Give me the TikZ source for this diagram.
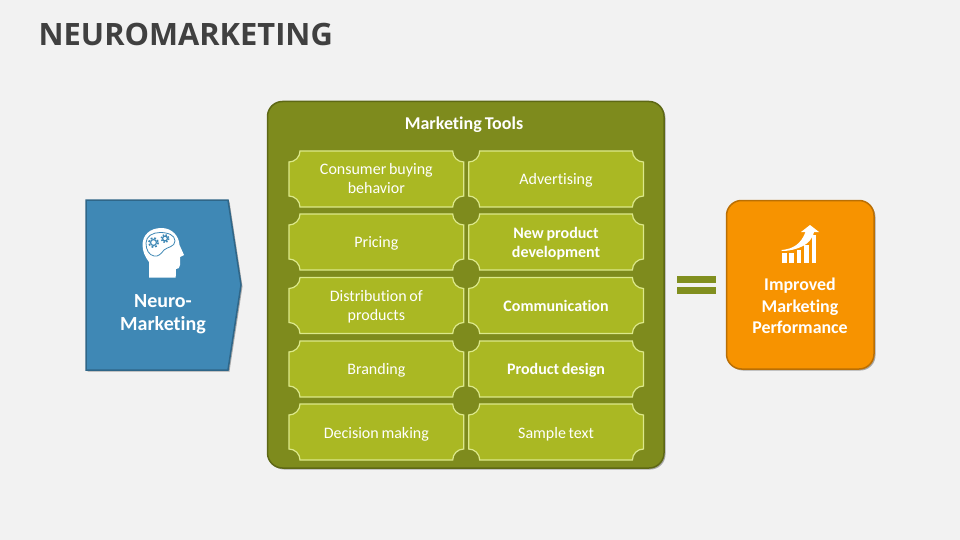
\documentclass[tikz,border=0pt]{standalone}
\usepackage{fontspec}
\setmainfont{Carlito}[RawFeature={-liga}]
\newfontfamily\titlefont{Open Sans}
\usetikzlibrary{shadows}
\definecolor{pagebg}{HTML}{F2F2F2}
\definecolor{titlec}{HTML}{404040}
\definecolor{panelc}{HTML}{7E8B1D}
\definecolor{paneld}{HTML}{5E6815}
\definecolor{cardc}{HTML}{AAB823}
\definecolor{cardl}{HTML}{DCE88A}
\definecolor{bluec}{HTML}{3F88B5}
\definecolor{blued}{HTML}{2F6688}
\definecolor{orangec}{HTML}{F79300}
\definecolor{oranged}{HTML}{BA6F04}
\definecolor{eqc}{HTML}{818F1F}
\newcommand{\tightwords}{\spaceskip .17em\relax}
\tikzset{
  softshadow/.style={drop shadow={shadow xshift=1.5pt,shadow yshift=-1.5pt,opacity=.3,fill=black}},
  cardshape/.style={fill=cardc,draw=cardl,line width=1.2pt},
  cardtext/.style={text=white,font=\fontsize{16}{19}\selectfont,align=center,inner sep=0pt,text width=150pt,execute at begin node=\tightwords},
  boldtext/.style={cardtext,font=\fontsize{16}{19}\selectfont\bfseries},
  headtext/.style={text=white,align=center,inner sep=0pt,font=\fontsize{20}{22.5}\selectfont\bfseries},
  iconfill/.style={fill=white,draw=none},
  brainline/.style={draw=bluec,line width=.8pt,line join=round},
  gearring/.style={draw=bluec,line width=1.2pt},
  gearteeth/.style={draw=bluec,line width=1.6pt},
}
\newcommand{\card}[7]{%
  % #1 name, #2 x0, #3 y0, #4 x1, #5 y1, #6 style, #7 text
  \draw[cardshape] (#2+11,#3) -- (#4-11,#3)
    .. controls (#4-11,#3+6) and (#4-6,#3+11) .. (#4,#3+11)
    -- (#4,#5-11)
    .. controls (#4-6,#5-11) and (#4-11,#5-6) .. (#4-11,#5)
    -- (#2+11,#5)
    .. controls (#2+11,#5-6) and (#2+6,#5-11) .. (#2,#5-11)
    -- (#2,#3+11)
    .. controls (#2+6,#3+11) and (#2+11,#3+6) .. (#2+11,#3) -- cycle;
  \node[#6] (#1) at ({(#2+#4)/2},{(#3+#5)/2+1}) {#7};%
}
\begin{document}
\begin{tikzpicture}[x=1pt,y=-1pt]
\useasboundingbox (0,0) rectangle (960,540);
\fill[pagebg] (0,0) rectangle (960,540);
\node[anchor=base west,inner sep=0pt,text=titlec,font=\titlefont\fontsize{30.8}{34}\selectfont\bfseries] (title) at (38.5,46) {NEUROMARKETING};

% left pentagon
\draw[fill=bluec,draw=blued,line width=1.5pt,line join=miter,softshadow] (86,200) -- (228,200) -- (241,285) -- (228,370) -- (86,370) -- cycle;
% head icon
\fill[iconfill] (149,277.5) -- (149,262)
  .. controls (145,257) and (142.5,251) .. (142.5,245)
  .. controls (142.5,235) and (150,228) .. (161.5,228)
  .. controls (172,228) and (179,236) .. (179.5,245)
  -- (184,255) -- (180,257) -- (180,265)
  .. controls (180,268) and (178,269) .. (176,269)
  -- (175.7,277.5) -- cycle;
\draw[brainline] (146,243)
  .. controls (146,236) and (153,232.5) .. (160,232.5)
  .. controls (168,232.5) and (175,235) .. (175,241)
  .. controls (175,247) and (167,247) .. (164,250)
  .. controls (161,254) and (158,257) .. (154,256)
  .. controls (149,255) and (146,250) .. (146,243) -- cycle;
\draw[gearring] (153.5,242.5) circle[radius=3];
\draw[gearteeth,dash pattern=on 1.9pt off 1.9pt] (153.5,242.5) circle[radius=4.8];
\draw[gearring] (165,238.5) circle[radius=2.4];
\draw[gearteeth,dash pattern=on 1.5pt off 1.5pt] (165,238.5) circle[radius=3.8];
\node[headtext] (neuro) at (163,314) {Neuro-\\Marketing};

% panel
\draw[fill=panelc,draw=paneld,line width=1.5pt,rounded corners=15pt,softshadow] (267.5,101.5) rectangle (664,468);
\node[headtext,font=\fontsize{18}{21}\selectfont\bfseries,execute at begin node=\tightwords] (tools) at (464,125) {Marketing Tools};

\card{c1}{289}{151}{463.7}{207}{cardtext,yshift=1pt}{Consumer buying\\behavior}
\card{c2}{468.7}{151}{643.4}{207}{cardtext}{Advertising}
\card{c3}{289}{214}{463.7}{270}{cardtext}{Pricing}
\card{c4}{468.7}{214}{643.4}{270}{boldtext,yshift=-1pt}{New product\\development}
\card{c5}{289}{277.5}{463.7}{333.5}{cardtext}{Distribution of\\products}
\card{c6}{468.7}{277.5}{643.4}{333.5}{boldtext,yshift=1pt}{Communication}
\card{c7}{289}{341}{463.7}{397}{cardtext}{Branding}
\card{c8}{468.7}{341}{643.4}{397}{boldtext}{Product design}
\card{c9}{289}{404}{463.7}{460}{cardtext,yshift=-1pt}{Decision making}
\card{c10}{468.7}{404}{643.4}{460}{cardtext,yshift=-1pt}{Sample text}

% equals
\fill[eqc] (677,276) rectangle (716,283);
\fill[eqc] (677,287) rectangle (716,294);

% orange box
\draw[fill=orangec,draw=oranged,line width=1.5pt,rounded corners=15pt,softshadow] (726.5,200.5) rectangle (874,369);
% chart icon
\fill[iconfill] (782,252.5) rectangle (787,263.3);
\fill[iconfill] (789.3,252.5) rectangle (794,263.3);
\fill[iconfill] (796.8,250) rectangle (801.3,263.3);
\fill[iconfill] (804,245) rectangle (808.5,263.3);
\fill[iconfill] (811.5,235) rectangle (816,263.3);
\fill[iconfill] (781.7,250)
  .. controls (793,249) and (801,244) .. (805.5,232)
  -- (801,232) -- (810,225) -- (819,232) -- (814,232)
  .. controls (812,240) and (808,243) .. (803,246)
  .. controls (797,249) and (790,251) .. (781.7,251) -- cycle;
\node[headtext,font=\fontsize{17.9}{21.5}\selectfont\bfseries] (perf) at (800,306) {Improved\\Marketing\\Performance};
\end{tikzpicture}
\end{document}
